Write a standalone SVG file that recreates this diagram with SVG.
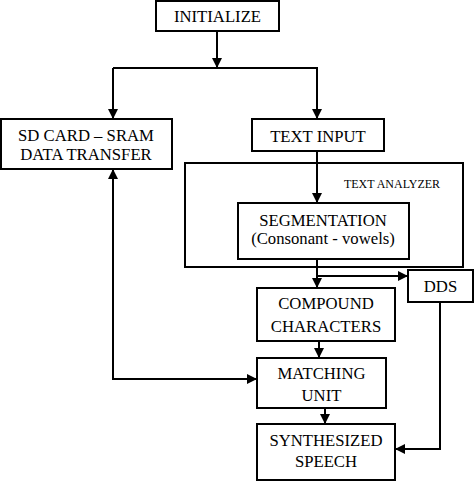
<svg xmlns="http://www.w3.org/2000/svg" width="474" height="481" viewBox="0 0 474 481">
<style>
.box{fill:#fff;stroke:#000;stroke-width:2}
.c{fill:none;stroke:#000;stroke-width:2}
</style>
<defs>
<marker id="ah" viewBox="0 0 10 10" refX="10" refY="5" markerWidth="5" markerHeight="5" markerUnits="strokeWidth" orient="auto">
<path d="M0,0 L10,5 L0,10 Z" fill="#000"/>
</marker>
<marker id="as" viewBox="0 0 10 10" refX="0" refY="5" markerWidth="5" markerHeight="5" markerUnits="strokeWidth" orient="auto">
<path d="M10,0 L0,5 L10,10 Z" fill="#000"/>
</marker>
</defs>
<rect x="0" y="0" width="474" height="481" fill="#fff"/>
<g font-family="Liberation Serif, serif" font-size="16.7" text-anchor="middle" fill="#000">
<g id="analyzer">
<rect class="box" x="185" y="163" width="278" height="104"/>
<text x="392" y="188" font-size="12">TEXT ANALYZER</text>
</g>
<g id="initialize">
<rect class="box" x="156" y="1" width="123" height="30"/>
<text x="217.5" y="22">INITIALIZE</text>
</g>
<g id="sdcard">
<rect class="box" x="1" y="119" width="171" height="50"/>
<text x="86" y="141">SD CARD – SRAM</text>
<text x="86" y="160">DATA TRANSFER</text>
</g>
<g id="textinput">
<rect class="box" x="252" y="119" width="132" height="32"/>
<text x="318" y="142">TEXT INPUT</text>
</g>
<g id="segmentation">
<rect class="box" x="238" y="203" width="171" height="56"/>
<text x="323" y="226">SEGMENTATION</text>
<text x="323" y="244">(Consonant - vowels)</text>
</g>
<g id="dds">
<rect class="box" x="408" y="270" width="65" height="32"/>
<text x="440.5" y="292">DDS</text>
</g>
<g id="compound">
<rect class="box" x="257" y="288" width="138" height="53"/>
<text x="326" y="309">COMPOUND</text>
<text x="326" y="332">CHARACTERS</text>
</g>
<g id="matching">
<rect class="box" x="257" y="358" width="129" height="50"/>
<text x="321.5" y="379">MATCHING</text>
<text x="321.5" y="401">UNIT</text>
</g>
<g id="speech">
<rect class="box" x="257" y="424" width="138" height="56"/>
<text x="326" y="446">SYNTHESIZED</text>
<text x="326" y="467">SPEECH</text>
</g>
</g>
<g id="connectors">
<path class="c" d="M217,31 V68" marker-end="url(#ah)"/>
<path class="c" d="M113,68 H317 V119" marker-end="url(#ah)"/>
<path class="c" d="M113,68 V119" marker-end="url(#ah)"/>
<path class="c" d="M317,151 V203" marker-end="url(#ah)"/>
<path class="c" d="M317,259 V288" marker-end="url(#ah)"/>
<path class="c" d="M317,276 H408" marker-end="url(#ah)"/>
<path class="c" d="M319,341 V358" marker-end="url(#ah)"/>
<path class="c" d="M325,408 V424" marker-end="url(#ah)"/>
<path class="c" d="M440,302 V449 H395" marker-end="url(#ah)"/>
<path class="c" d="M113,169 V379 H257" marker-start="url(#as)" marker-end="url(#ah)"/>
</g>
</svg>
